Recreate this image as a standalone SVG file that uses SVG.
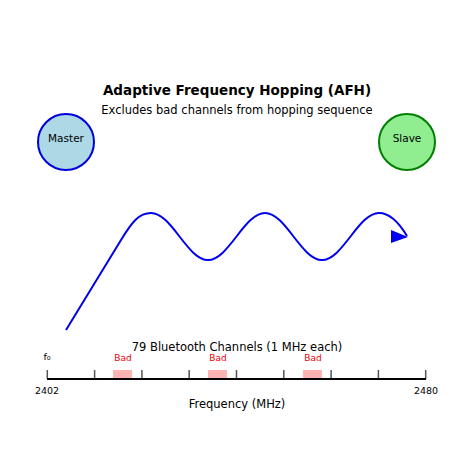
<svg xmlns="http://www.w3.org/2000/svg" width="474" height="474" viewBox="0 0 474 474">
<style>
text{font-family:"DejaVu Sans",sans-serif;fill:#000}
.title{font-size:13.5px;font-weight:bold}
.sub{font-size:11.5px}
.node{font-size:10.5px}
.small{font-size:9.5px}
.bad{font-size:9px;fill:#e8000b}
.tick{stroke:#555;stroke-width:1.5}
.badr{fill:#ffb3b3}
</style>
<rect width="474" height="474" fill="#fff"/>
<text class="title" x="237" y="95" text-anchor="middle">Adaptive Frequency Hopping (AFH)</text>
<text class="sub" x="237" y="114" text-anchor="middle">Excludes bad channels from hopping sequence</text>
<g id="master">
<circle cx="66" cy="142" r="28" fill="#add8e6" stroke="#0000dd" stroke-width="2"/>
<text class="node" x="66" y="142" text-anchor="middle">Master</text>
</g>
<g id="slave">
<circle cx="407" cy="142" r="28" fill="#90ee90" stroke="#008000" stroke-width="2"/>
<text class="node" x="407" y="142" text-anchor="middle">Slave</text>
</g>
<g id="connectors">
<path d="M66,330 L121,240 C132,222 139,213 151,213 C171.7,213 187.3,260 208,260 C228.7,260 244.3,213 265,213 C285.7,213 301.3,260 322,260 C342.7,260 358.3,213 379,213 C392,213 401,226 407,236" fill="none" stroke="#0000ee" stroke-width="2"/>
<polygon points="391,230 391,243 408,237" fill="#0000ee"/>
</g>
<g id="axis">
<text class="sub" x="237" y="351" text-anchor="middle">79 Bluetooth Channels (1 MHz each)</text>
<text class="small" x="47" y="360" text-anchor="middle">f₀</text>
<rect class="badr" x="113" y="370" width="19" height="8"/>
<rect class="badr" x="208" y="370" width="19" height="8"/>
<rect class="badr" x="303" y="370" width="19" height="8"/>
<text class="bad" x="123" y="361" text-anchor="middle">Bad</text>
<text class="bad" x="218" y="361" text-anchor="middle">Bad</text>
<text class="bad" x="313" y="361" text-anchor="middle">Bad</text>
<line class="tick" x1="47.3" y1="370" x2="47.3" y2="379"/>
<line class="tick" x1="94.6" y1="370" x2="94.6" y2="379"/>
<line class="tick" x1="141.9" y1="370" x2="141.9" y2="379"/>
<line class="tick" x1="189.2" y1="370" x2="189.2" y2="379"/>
<line class="tick" x1="236.5" y1="370" x2="236.5" y2="379"/>
<line class="tick" x1="283.8" y1="370" x2="283.8" y2="379"/>
<line class="tick" x1="331.1" y1="370" x2="331.1" y2="379"/>
<line class="tick" x1="378.4" y1="370" x2="378.4" y2="379"/>
<line class="tick" x1="425.7" y1="370" x2="425.7" y2="379"/>
<line x1="47" y1="379" x2="426" y2="379" stroke="#000" stroke-width="2"/>
<text class="small" x="47" y="394" text-anchor="middle">2402</text>
<text class="small" x="426" y="394" text-anchor="middle">2480</text>
<text class="sub" x="237" y="408" text-anchor="middle">Frequency (MHz)</text>
</g>
</svg>
